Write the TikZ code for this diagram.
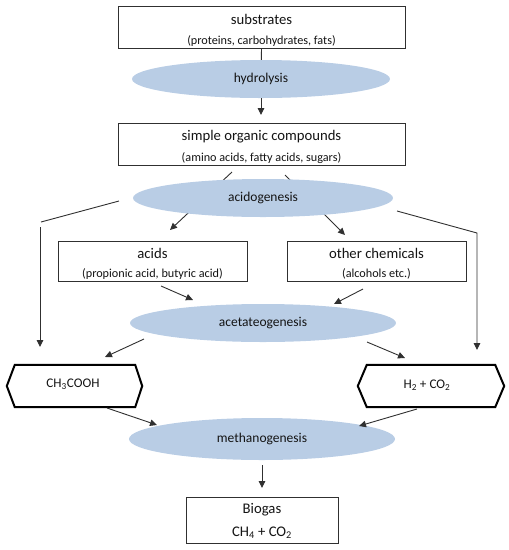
\documentclass[tikz,border=0pt]{standalone}
\usepackage{fontspec}
\setmainfont{Carlito}
\usetikzlibrary{shapes.geometric,arrows.meta,backgrounds}
\definecolor{ellfill}{HTML}{B9CDE5}
\definecolor{linecol}{HTML}{303030}
\definecolor{txtcol}{HTML}{141414}
\begin{document}
\begin{tikzpicture}[x=1pt,y=-1pt,
  box/.style={draw=linecol, line width=0.9pt, inner sep=0pt, fill=white},
  proc/.style={ellipse, fill=ellfill, inner sep=0pt, text=txtcol, font=\fontsize{13.5}{16}\selectfont},
  title/.style={inner sep=0pt, text=txtcol, font=\fontsize{14.7}{17}\selectfont},
  subt/.style={inner sep=0pt, text=txtcol, font=\fontsize{12.2}{14}\selectfont},
  hextext/.style={inner sep=0pt, text=txtcol, font=\fontsize{13.2}{15}\selectfont},
  hexline/.style={draw=black, line width=2pt, line join=miter},
  ln/.style={draw=linecol, line width=0.9pt},
  arr/.style={draw=linecol, line width=0.9pt, -{Triangle[length=7pt,width=6.5pt]}}]
\useasboundingbox (0,0) rectangle (509,550);

% boxes
\node[box, minimum width=287pt, minimum height=42pt] (subs) at (261.5,27) {};
\node[title] (subsT) at (261.5,19.5) {substrates};
\node[subt] (subsS) at (261.5,41) {(proteins, carbohydrates, fats)};

\node[box, minimum width=287pt, minimum height=42pt] (simple) at (261.5,144) {};
\node[title] (simpleT) at (261.5,136.5) {simple organic compounds};
\node[subt] (simpleS) at (261.5,158) {(amino acids, fatty acids, sugars)};

\node[box, minimum width=189pt, minimum height=40pt] (acids) at (152.5,261) {};
\node[title] (acidsT) at (152.5,253) {acids};
\node[subt] (acidsS) at (152.5,274) {(propionic acid, butyric acid)};

\node[box, minimum width=179pt, minimum height=40pt] (other) at (376.5,261) {};
\node[title] (otherT) at (376.5,253) {other chemicals};
\node[subt] (otherS) at (376.5,274) {(alcohols etc.)};

\node[box, minimum width=152pt, minimum height=46pt] (bio) at (262,520) {};
\node[title] (bioT) at (262,510) {Biogas};
\node[title] (bioS) at (262,533) {CH\textsubscript{4} + CO\textsubscript{2}};

% process ellipses
\node[proc, minimum width=258pt, minimum height=38pt] (hyd) at (261,79) {hydrolysis};
\node[proc, minimum width=260pt, minimum height=38pt] (acid) at (263,198) {acidogenesis};
\node[proc, minimum width=266pt, minimum height=38pt] (acet) at (263,323) {acetateogenesis};
\node[proc, minimum width=266pt, minimum height=42pt] (meth) at (262,439) {methanogenesis};

% hexagons
\node[inner sep=0pt, minimum width=135pt, minimum height=42pt] (ch3) at (74.5,386) {};
\node[hextext] (ch3T) at (73,384) {CH\textsubscript{3}COOH};
\draw[hexline] (ch3.west) -- ([xshift=8pt]ch3.north west) -- ([xshift=-7pt]ch3.north east)
  -- (ch3.east) -- ([xshift=-7pt]ch3.south east) -- ([xshift=8pt]ch3.south west) -- cycle;
\node[inner sep=0pt, minimum width=146pt, minimum height=42pt] (h2) at (431,386) {};
\node[hextext] (h2T) at (427,385) {H\textsubscript{2} + CO\textsubscript{2}};
\draw[hexline] (h2.west) -- ([xshift=9pt]h2.north west) -- ([xshift=-9pt]h2.north east)
  -- (h2.east) -- ([xshift=-9pt]h2.south east) -- ([xshift=9pt]h2.south west) -- cycle;

% coordinates for connector ends
\coordinate (c1) at (232,172);
\coordinate (c1e) at (170,230);
\coordinate (c2) at (285,175);
\coordinate (c2e) at (345,235);
\coordinate (l1) at (119,201);
\coordinate (l2) at (41,222);
\coordinate (l3) at (40,227);
\coordinate (l4) at (40,347);
\coordinate (r1) at (397,211);
\coordinate (r2) at (477,233);
\coordinate (r3) at (477,350);
\coordinate (a1) at (161,286);
\coordinate (a1e) at (193,300);
\coordinate (o1) at (363,289);
\coordinate (o1e) at (334,304);
\coordinate (t1) at (144,339);
\coordinate (t1e) at (105,357);
\coordinate (t2) at (367,342);
\coordinate (t2e) at (405,358);
\coordinate (m1) at (107,408);
\coordinate (m1e) at (157,425);
\coordinate (m2) at (417,409);
\coordinate (m2e) at (359,426);
\coordinate (b1) at (262,465);
\coordinate (b1e) at (262,488);
\coordinate (h1) at (261,98);
\coordinate (h1e) at (261,115);

\begin{pgfonlayer}{background}
\draw[ln] (subs.south) -- (hyd.center);
\draw[arr] (c1) -- (c1e);
\draw[arr] (c2) -- (c2e);
\end{pgfonlayer}
\draw[arr] (h1) -- (h1e);
\draw[ln] (l1) -- (l2);
\draw[arr] (l3) -- (l4);
\draw[arr] (r1) -- (r2) -- (r3);
\draw[arr] (a1) -- (a1e);
\draw[arr] (o1) -- (o1e);
\draw[arr] (t1) -- (t1e);
\draw[arr] (t2) -- (t2e);
\draw[arr] (m1) -- (m1e);
\draw[arr] (m2) -- (m2e);
\draw[arr] (b1) -- (b1e);
\end{tikzpicture}
\end{document}
